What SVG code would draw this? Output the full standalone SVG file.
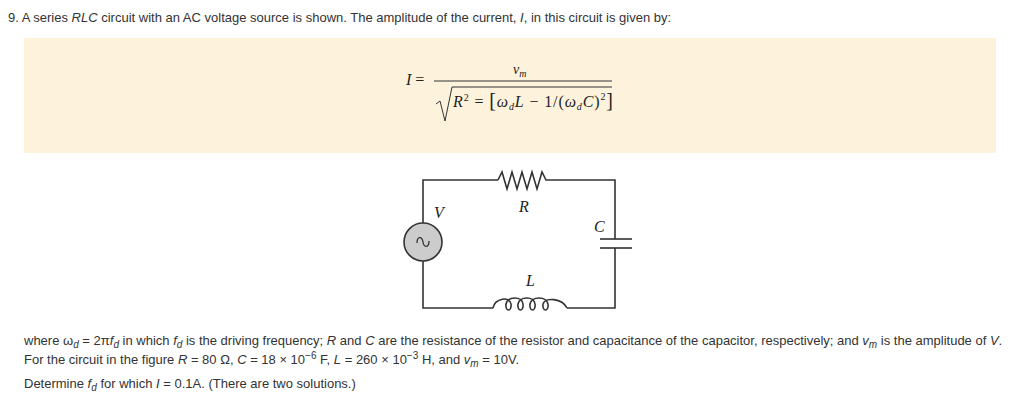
<svg xmlns="http://www.w3.org/2000/svg" width="1024" height="402" viewBox="0 0 1024 402">
<style>
.t{font-family:"Liberation Sans",Arial,sans-serif;font-size:13px;fill:#333}
.m{font-family:"Liberation Serif","Times New Roman",serif;font-style:italic;fill:#222}
.w{fill:none;stroke:#333;stroke-width:1.6}
</style>
<rect width="1024" height="402" fill="#fff"/>
<text class="t" x="8" y="22">9. A series <tspan font-style="italic">RLC</tspan> circuit with an AC voltage source is shown. The amplitude of the current, <tspan font-style="italic">I</tspan>, in this circuit is given by:</text>
<rect x="24" y="38" width="972" height="115" fill="#fdf3dc"/>
<g id="formula">
<text class="m" x="406" y="85" font-size="16">I <tspan font-style="normal">=</tspan></text>
<line x1="434" y1="81" x2="612" y2="81" stroke="#333" stroke-width="1"/>
<text class="m" x="513" y="74" font-size="14">v<tspan font-size="10" dy="3">m</tspan></text>
<path d="M436 104 L440 101 L445 121 L452 87 L612 87" fill="none" stroke="#333" stroke-width="1"/>
<text class="m" x="453" y="107" font-size="16" textLength="160">R<tspan font-size="10" dy="-6" font-style="normal">2</tspan><tspan dy="6" font-style="normal"> = </tspan><tspan font-style="normal" font-size="20">[</tspan>ω<tspan font-size="10" dy="3">d</tspan><tspan dy="-3">L</tspan><tspan font-style="normal"> − 1/(</tspan>ω<tspan font-size="10" dy="3">d</tspan><tspan dy="-3">C</tspan><tspan font-style="normal">)</tspan><tspan font-size="10" dy="-7" font-style="normal">2</tspan><tspan dy="7" font-style="normal" font-size="20">]</tspan></text>
</g>
<g id="wires">
<path class="w" d="M423 223 V180 H498 M550 180 H615 V239 M615 248 V308 H567 M493 308 H423 V261"/>
</g>
<g id="source">
<circle cx="423" cy="242" r="19" fill="#ccc" stroke="#333" stroke-width="1.6"/>
<path d="M417 243 C417 236 422 236 423 242 C424 248 429 248 429 241" fill="none" stroke="#333" stroke-width="1.3"/>
<text class="m" x="434" y="218" font-size="16">V</text>
</g>
<g id="resistor">
<polyline class="w" points="498,180 502,172 507,189 512,172 517,189 522,172 527,189 532,172 537,189 542,172 546,180 550,180"/>
<text class="m" x="519" y="212" font-size="16">R</text>
</g>
<g id="capacitor">
<line x1="600" y1="239" x2="632" y2="239" stroke="#333" stroke-width="1.6"/>
<line x1="600" y1="248" x2="632" y2="248" stroke="#333" stroke-width="1.6"/>
<text class="m" x="594" y="232" font-size="16">C</text>
</g>
<g id="inductor">
<path class="w" d="M493 308 C495 298 510 296 511 304 C512 312 505 312 506 304 C508 296 522 296 523 304 C524 312 517 312 518 304 C520 296 534 296 535 304 C536 312 529 312 530 304 C532 296 546 296 548 304 C549 312 542 312 543 304 C545 297 562 298 567 308"/>
<text class="m" x="526" y="286" font-size="16">L</text>
</g>
<text class="t" x="24" y="345">where ω<tspan font-size="10" dy="3" font-style="italic">d</tspan><tspan dy="-3"> = 2π</tspan><tspan font-style="italic">f</tspan><tspan font-size="10" dy="3" font-style="italic">d</tspan><tspan dy="-3"> in which </tspan><tspan font-style="italic">f</tspan><tspan font-size="10" dy="3" font-style="italic">d</tspan><tspan dy="-3"> is the driving frequency; </tspan><tspan font-style="italic">R</tspan> and <tspan font-style="italic">C</tspan> are the resistance of the resistor and capacitance of the capacitor, respectively; and <tspan font-style="italic">v</tspan><tspan font-size="10" dy="3" font-style="italic">m</tspan><tspan dy="-3"> is the amplitude of </tspan><tspan font-style="italic">V</tspan>.</text>
<text class="t" x="24" y="364">For the circuit in the figure <tspan font-style="italic">R</tspan> = 80 Ω, <tspan font-style="italic">C</tspan> = 18 × 10<tspan font-size="10" dy="-5">−6</tspan><tspan dy="5"> F, </tspan><tspan font-style="italic">L</tspan> = 260 × 10<tspan font-size="10" dy="-5">−3</tspan><tspan dy="5"> H, and </tspan><tspan font-style="italic">v</tspan><tspan font-size="10" dy="3" font-style="italic">m</tspan><tspan dy="-3"> = 10V.</tspan></text>
<text class="t" x="24" y="388">Determine <tspan font-style="italic">f</tspan><tspan font-size="10" dy="3" font-style="italic">d</tspan><tspan dy="-3"> for which </tspan><tspan font-style="italic">I</tspan> = 0.1A. (There are two solutions.)</text>
</svg>
